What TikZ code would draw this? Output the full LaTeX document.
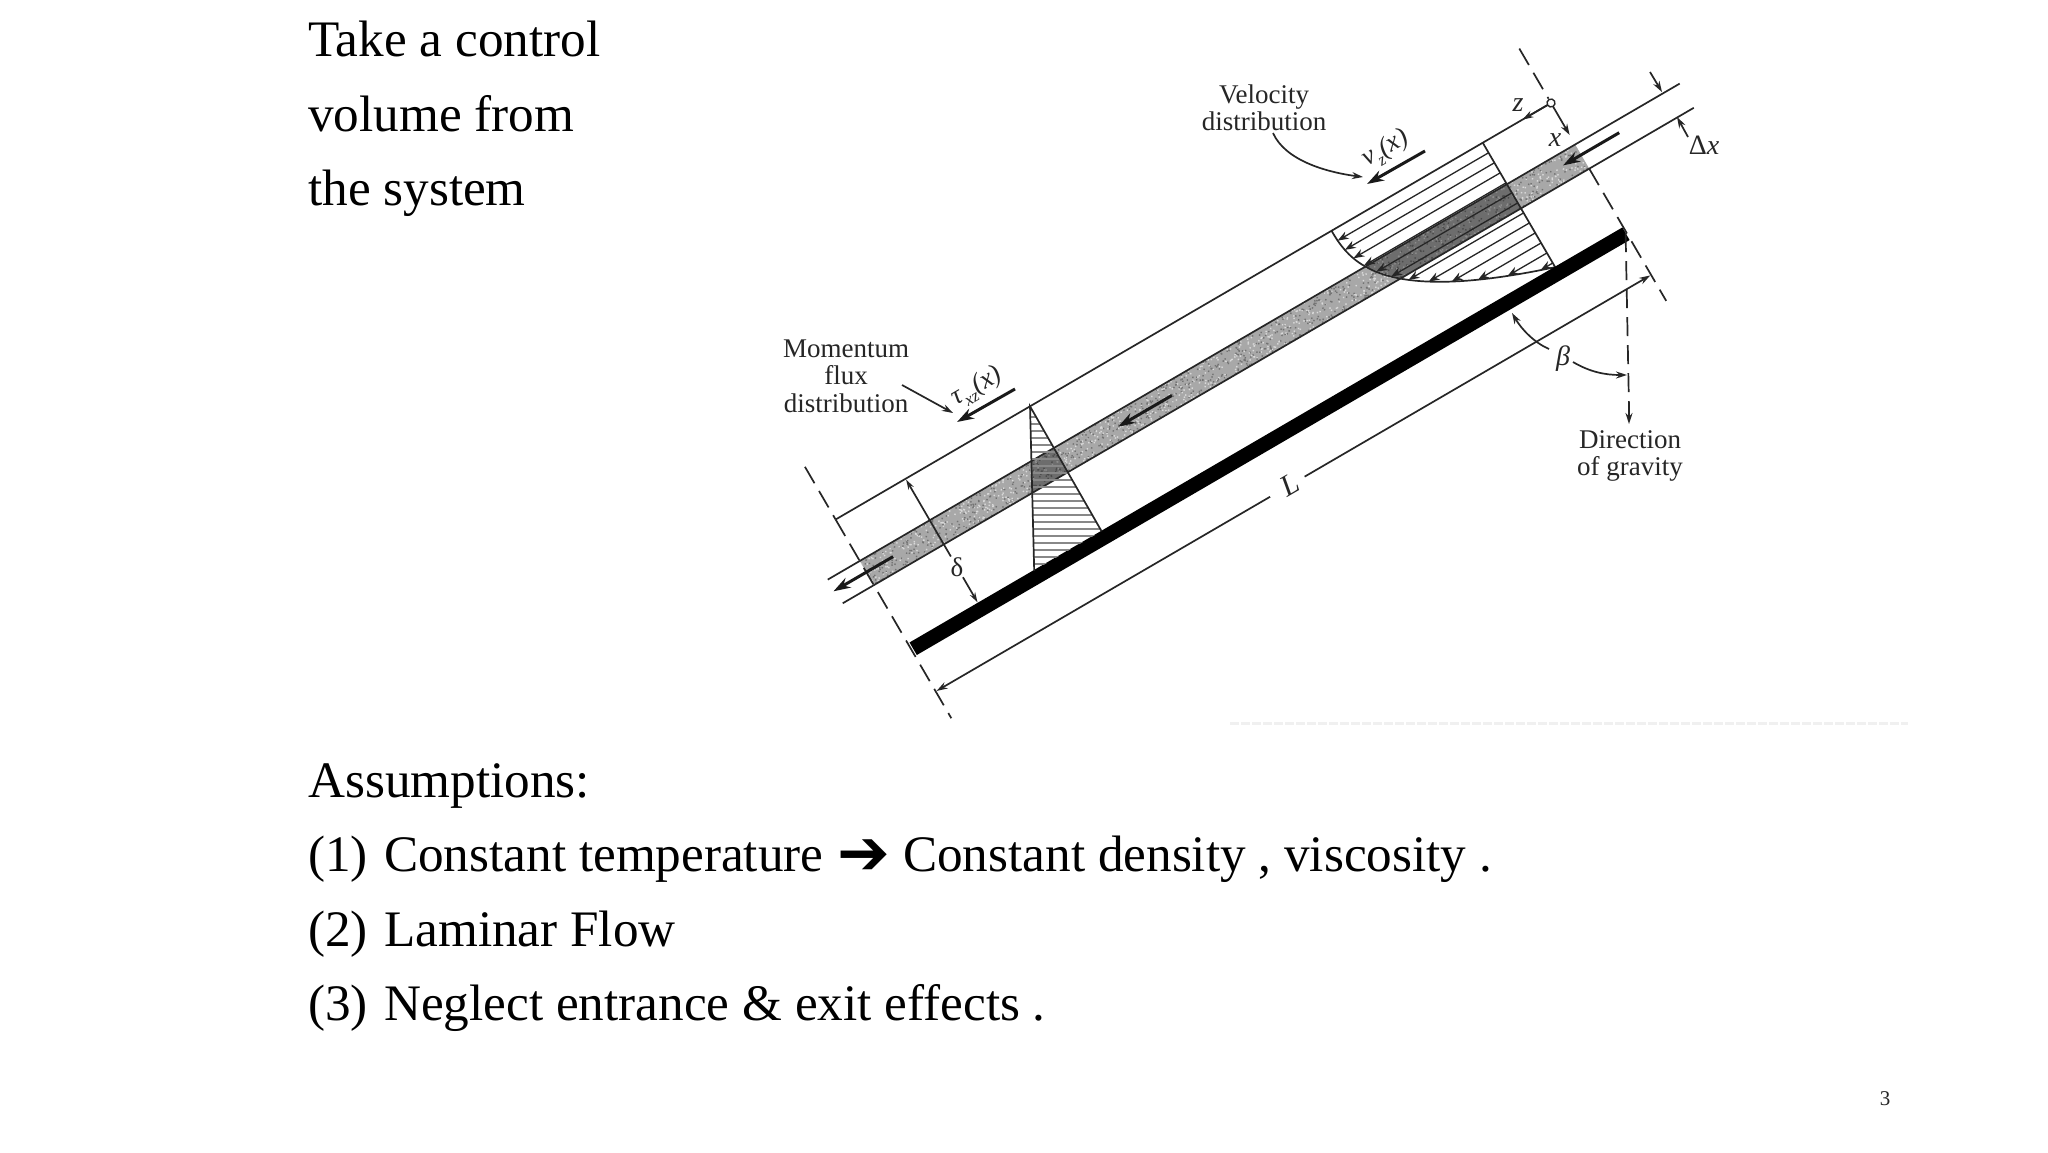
\documentclass[tikz,border=0pt]{standalone}
\usepackage{fontspec}
\setmainfont{Liberation Serif}
\newfontfamily\symfont{DejaVu Sans}
\usetikzlibrary{arrows.meta}
\definecolor{ink}{gray}{0.15}
\definecolor{film}{gray}{0.66}
\tikzset{
  x=1pt,y=-1pt,
  body/.style={inner sep=0pt,anchor=base west,font=\fontsize{51.2}{60}\selectfont,text=black},
  lab/.style={inner sep=0pt,font=\fontsize{27}{27.5}\selectfont,text=ink,align=center},
  thin line/.style={draw=ink,line width=1.7pt},
  dash line/.style={draw=ink,line width=1.7pt,dash pattern=on 19pt off 9pt},
  tip/.style={-{Stealth[length=11pt,width=7pt]}},
  bigtip/.style={-{Stealth[length=17pt,width=11pt]},draw=black!90,line width=3pt},
  hatch/.style={draw=ink,line width=1.3pt},
}
\begin{document}
\begin{tikzpicture}
\fill[white] (0,0) rectangle (2048,1152);
\useasboundingbox (0,0) rectangle (2048,1152);
% slide text
\node[body] (t1) at (308,56) {Take a control};
\node[body] (t2) at (308,131) {volume from};
\node[body] (t3) at (308,205) {the system};
\node[body] (a0) at (308,797) {Assumptions:};
\node[body] (a1n) at (308,871) {(1)};
\node[body] (a1) at (384,871) {Constant temperature};
\node[body,font=\symfont\fontsize{63}{63}\selectfont] (a1a) at (837,874) {➔};
\node[body] (a1b) at (903,871) {Constant density , viscosity .};
\node[body] (a2n) at (308,946) {(2)};
\node[body] (a2) at (384,946) {Laminar Flow};
\node[body] (a3n) at (308,1020) {(3)};
\node[body] (a3) at (384,1020) {Neglect entrance \& exit effects .};
\node[inner sep=0pt,font=\fontsize{21}{22}\selectfont,text=ink] (pg) at (1885,1099) {3};
% faint scan residue
\draw[gray!12,line width=3pt,dash pattern=on 9pt off 2pt] (1230,723) -- (1908,723);
% slanted assembly: local (s,n) axes, s up the slope, n into the film
\begin{scope}[shift={(1551,103)},x={(0.864pt,0.503pt)},y={(0.503pt,-0.864pt)}]
  % film
  \fill[film] (-828,48) -- (0,48) -- (0,76) -- (-828,76) -- cycle;
  \begin{scope}
    \clip (-828,48) -- (0,48) -- (0,76) -- (-828,76) -- cycle;
    \pgfmathsetseed{7}
    \foreach \i in {1,...,1800}{
      \pgfmathsetmacro\sx{-828+828*rnd}
      \pgfmathsetmacro\ny{48+28*rnd}
      \pgfmathsetmacro\sh{mod(\i,2)==0?15:55}
      \fill[black!\sh] (\sx,\ny) circle[radius=1];
    }
  \end{scope}
  \fill[black,fill opacity=0.35] (-79,48) -- (-243,48) -- (-219,76) -- (-79,76) -- cycle;
  \fill[black,fill opacity=0.35] (-603,48) -- (-629,48) -- (-645,76) -- (-603,76) -- cycle;
  \draw[thin line] (-865,48) -- (121,48);
  \draw[thin line] (-864,76) -- (121,76);
  % top surface, free-surface line
  \draw[thin line] (-828,0) -- (0,0);
  \draw[thin line,tip] (0,0) -- (-33,0);
  \draw[thin line,tip] (0,0) -- (0,37);
  % control-surface dashes
  \draw[dash line] (0,-63) -- (0,-5);
  \draw[dash line] (0,76) -- (0,229);
  \draw[dash line] (-828,-61) -- (-828,0);
  \draw[dash line] (-828,0) -- (-828,230);
  \draw[draw=ink,fill=white,line width=1.4pt] (0,0) circle[radius=4];
  % velocity profile
  \draw[thin line] (-79,0) -- (-79,144);
  \draw[thin line] plot[domain=0.001:1,samples=50,variable=\t] ({-79-175*(1-\t^2.5)},{144*\t});
  \foreach \k in {1,...,12}{
    \pgfmathsetmacro\ny{11.6*\k}
    \pgfmathsetmacro\ex{-79-175*(1-(\ny/144)^2.5)}
    \draw[hatch,-{Stealth[length=11pt,width=8pt]}] (-79,\ny) -- (\ex,\ny);
  }
  % momentum triangle corners
  \coordinate (tA) at (-603,0);
  \coordinate (tB) at (-682,144);
  \coordinate (tC) at (-604,144);
  % film arrows
  \draw[bigtip] (44,60) -- (-21,60);
  \draw[bigtip] (-475,62) -- (-537,62);
  \draw[bigtip] (-797,61) -- (-866,61);
  % delta
  \draw[thin line,{Stealth[length=10pt,width=6pt]}-] (-747,1) -- (-747,90);
  \draw[thin line,-{Stealth[length=10pt,width=6pt]}] (-747,114) -- (-747,143);
  \node[lab] (delta) at (-747,102) {δ};
  % L dimension
  \draw[thin line,{Stealth[length=11pt,width=7pt]}-] (-827,199) -- (-441,199);
  \draw[thin line,-{Stealth[length=11pt,width=7pt]}] (-401,199) -- (-1,199);
  \node[lab,font=\fontsize{30}{30}\itshape\selectfont,rotate=30] (L) at (-418,198) {L};
  % wall
  \fill[black] (-826,143.5) -- (-1,143.5) -- (-1,158) -- (-826,158) -- cycle;
  % named points for the free-standing arrows
  \coordinate (wallTop) at (-1,150);
\end{scope}
% momentum triangle
\begin{scope}
  \clip (tA) -- (tB) -- (tC) -- cycle;
  \foreach \yy in {410,417,...,575}{
    \draw[draw=ink!55,line width=1.2pt] (1015,\yy) -- (1115,\yy);
  }
\end{scope}
\draw[thin line] (tB) -- (tA) -- (tC);
% gravity
\coordinate (gTip) at (1629,424);
\draw[dash line] (wallTop) -- (1629,408);
\draw[thin line,tip] (1629,405) -- (gTip);
\node[lab] (dir) at (1630,456) {Direction\\of gravity};
% beta
\node[lab,font=\fontsize{28}{28}\itshape\selectfont] (beta) at (1563,359) {β};
\coordinate (bA) at (1512,313);
\coordinate (bB) at (1627,375);
\draw[thin line,tip] (1549,349) .. controls (1535,343) and (1522,330) .. (bA);
\draw[thin line,tip] (1573,362) .. controls (1590,372) and (1605,375) .. (bB);
% velocity label
\node[lab] (vel) at (1264,108) {Velocity\\distribution};
\coordinate (vA) at (1363,177);
\draw[thin line,tip] (1273,133) .. controls (1285,160) and (1325,172) .. (vA);
\node[lab,rotate=30,font=\fontsize{27}{27}\itshape\selectfont] (vz) at (1386,149) {v\raisebox{-0.25em}{\fontsize{17}{17}\selectfont z}(x)};
\coordinate (vzA) at (1425,151);
\coordinate (vzB) at (1367,184);
\draw[bigtip] (vzA) -- (vzB);
% momentum label
\node[lab] (mom) at (846,376) {Momentum\\flux\\distribution};
\coordinate (mA) at (902,385);
\coordinate (mB) at (953,413);
\draw[thin line,tip] (mA) -- (mB);
\node[lab,rotate=30,font=\fontsize{27}{27}\itshape\selectfont] (tau) at (977,387) {τ\raisebox{-0.25em}{\fontsize{17}{17}\selectfont xz}(x)};
\coordinate (tuA) at (1015,389);
\coordinate (tuB) at (957,422);
\draw[bigtip] (tuA) -- (tuB);
% Delta x
\coordinate (dxA) at (1650,72);
\coordinate (dxB) at (1662,92);
\coordinate (dxC) at (1688,137);
\coordinate (dxD) at (1677,117);
\draw[thin line,tip] (dxA) -- (dxB);
\draw[thin line,tip] (dxC) -- (dxD);
\node[lab,font=\fontsize{28}{28}\selectfont] (dx) at (1704,145) {Δ\textit{x}};
% axis letters
\node[lab,font=\fontsize{28}{28}\itshape\selectfont] (zl) at (1518,105) {z};
\node[lab,font=\fontsize{28}{28}\itshape\selectfont] (xl) at (1555,140) {x};
\end{tikzpicture}
\end{document}
